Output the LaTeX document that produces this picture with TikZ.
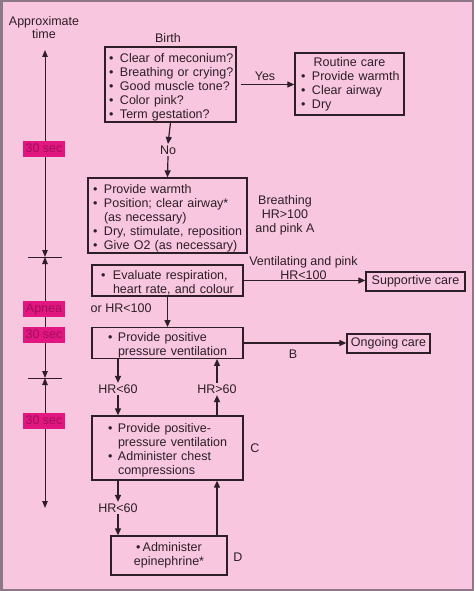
\documentclass[tikz,border=0pt]{standalone}
\usepackage{fontspec}
\setmainfont{Liberation Sans}
\usetikzlibrary{arrows.meta}
\definecolor{bg}{RGB}{248,198,222}
\definecolor{framec}{RGB}{140,120,135}
\definecolor{ink}{RGB}{45,30,40}
\definecolor{mag}{RGB}{226,22,128}
\definecolor{magtxt}{RGB}{160,15,90}
\newlength\bind
\setlength\bind{11pt}
\newcommand\bi[1]{\par\noindent\makebox[\bind][l]{\textbullet}\mbox{#1}}
\newcommand\bc[1]{\par\noindent\hspace*{\bind}\mbox{#1}}
\newcommand\fs{\fontsize{12.5}{14}\selectfont}
\tikzset{
  box/.style={draw=ink, line width=1.3pt, inner ysep=0pt, font=\fs, text=ink},
  lbl/.style={font=\fs, text=ink, inner sep=1.5pt},
  arr/.style={draw=ink, line width=1.2pt, -{Triangle[length=7pt,width=6pt]}},
  tarr/.style={draw=ink, line width=1pt, {Triangle[length=7pt,width=5.5pt]}-{Triangle[length=7pt,width=5.5pt]}},
  tbox/.style={fill=mag, text=magtxt, font=\fs, minimum width=42pt, minimum height=16pt, inner sep=0pt},
  tick/.style={draw=ink, line width=1pt}
}
\begin{document}
\begin{tikzpicture}[x=1pt,y=-1pt]
\fill[bg] (0,0) rectangle (474,591);
\useasboundingbox (0,0) rectangle (474,591);
\draw[framec, line width=2.5pt] (1.25,1.25) rectangle (472.75,589.75);

% timeline
\node[lbl, align=center, font=\fontsize{12.5}{13}\selectfont] (tlabel) at (44,28) {Approximate\\time};
\coordinate (t0) at (45,50);
\coordinate (t1) at (45,257);
\coordinate (t2) at (45,378);
\coordinate (t3) at (45,508);
\draw[tarr] (t0) -- (t1);
\draw[tarr] (t1) -- (t2);
\draw[tarr] (t2) -- (t3);
\draw[tick] ([xshift=-17pt]t1) -- ([xshift=17pt]t1);
\draw[tick] ([xshift=-17pt]t2) -- ([xshift=17pt]t2);
\node[tbox] (s1) at (44,148.5) {30 sec};
\node[tbox] (ap) at (44,309) {Apnea};
\node[tbox] (s2) at (44,334.5) {30 sec};
\node[tbox] (s3) at (44,420.5) {30 sec};

% main column
\node[lbl] (birth) at (168,38) {Birth};
\node[box, text width=123pt, inner xsep=4pt, minimum height=75pt] (b1) at (170.5,84.5)
 {\bi{Clear of meconium?}\bi{Breathing or crying?}\bi{Good muscle tone?}\bi{Color pink?}\bi{Term gestation?}};
\node[box, text width=97pt, inner xsep=6pt, minimum height=62pt] (rc) at (349.5,84)
 {\noindent\makebox[\linewidth][c]{Routine care}\bi{Provide warmth}\bi{Clear airway}\bi{Dry}};
\node[lbl] (yes) at (265,76) {Yes};
\node[lbl] (no) at (168,150) {No};
\node[box, text width=149pt, inner xsep=5pt, minimum height=75pt] (b3) at (167.5,215.5)
 {\bi{Provide warmth}\bi{Position; clear airway*}\bc{(as necessary)}\bi{Dry, stimulate, reposition}\bi{Give O2 (as necessary)}};
\node[lbl, align=center, font=\fontsize{12.5}{14}\selectfont] (bra) at (285,215) {Breathing\\HR>100\\and pink A};
\node[box, text width=133pt, inner xsep=9pt, minimum height=31pt] (b4) at (167.5,280.5)
 {\setlength\bind{12pt}\bi{Evaluate respiration,}\bc{heart rate, and colour}};
\node[box, minimum width=99pt, minimum height=19pt, inner sep=0pt] (sc) at (415.5,281.5) {Supportive care};
\node[lbl, align=center, font=\fontsize{12.5}{14}\selectfont] (vent) at (303.5,268) {Ventilating and pink\\HR<100};
\node[lbl, anchor=west] (orhr) at (89,308) {or HR<100};
\node[box, text width=119pt, inner xsep=16pt, minimum height=30pt] (b5) at (167.5,343)
 {\setlength\bind{10pt}\bi{Provide positive}\bc{pressure ventilation}};
\node[box, minimum width=83pt, minimum height=19pt, inner sep=0pt] (og) at (388.5,343.5) {Ongoing care};
\node[lbl] (bl) at (293,354) {B};
\node[lbl] (hr1) at (118,389) {HR<60};
\node[lbl] (hr2) at (217,389) {HR>60};
\node[box, text width=119pt, inner xsep=16pt, minimum height=64pt] (b6) at (167.5,448)
 {\setlength\bind{10pt}\bi{Provide positive-}\bc{pressure ventilation}\bi{Administer chest}\bc{compressions}};
\node[lbl] (cl) at (255,448) {C};
\node[lbl] (hr3) at (118,508) {HR<60};
\node[box, align=center, minimum width=116pt, minimum height=39pt, inner sep=0pt] (b7) at (169,555.5)
 {\textbullet\,Administer\\epinephrine*};
\node[lbl] (dl) at (238,557) {D};

% connectors
\draw[arr, shorten <=4pt] (b1.east) -- (b1.east -| rc.west);
\draw[arr] (b1.south) -- (no.north);
\draw[arr] (no.south) -- (b3.north);
\draw[arr] (b4.south) -- (b5.north);
\draw[arr] (b4.east) -- (b4.east -| sc.west);
\draw[arr] (b5.east) -- (b5.east -| og.west);
\draw[arr] (hr1.north |- b5.south) -- (hr1.north);
\draw[arr] (hr1.south) -- (hr1.south |- b6.north);
\draw[arr] (hr2.south |- b6.north) -- (hr2.south);
\draw[arr] (hr2.north) -- (hr2.north |- b5.south);
\draw[arr] (hr3.north |- b6.south) -- (hr3.north);
\draw[arr] (hr3.south) -- (hr3.south |- b7.north);
\draw[arr] (b7.north -| hr2) -- (b6.south -| hr2);
\end{tikzpicture}
\end{document}
